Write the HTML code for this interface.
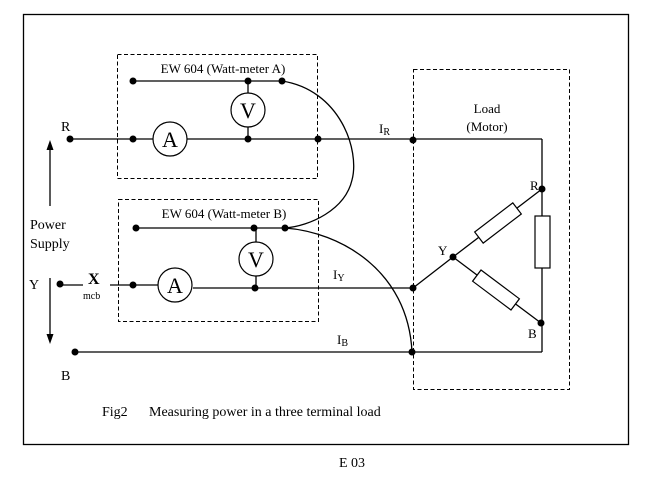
<!DOCTYPE html>
<html><head><meta charset="utf-8"><style>
html,body{margin:0;padding:0;background:#fff;}
svg{display:block;font-family:"Liberation Serif",serif;}
</style></head><body>
<svg width="645" height="483" viewBox="0 0 645 483" xmlns="http://www.w3.org/2000/svg">
<rect x="23.5" y="14.5" width="605" height="430" fill="none" stroke="#000" stroke-width="1.3"/>
<g fill="none" stroke="#000" stroke-width="1" stroke-dasharray="4,2.5">
<rect x="117.5" y="54.5" width="200" height="124"/>
<rect x="118.5" y="199.5" width="200" height="122"/>
<rect x="413.5" y="69.5" width="156" height="320"/>
</g>
<g stroke="#000" stroke-width="1.3" fill="none">
<line x1="133" y1="81" x2="282" y2="81"/>
<line x1="248" y1="81" x2="248" y2="93"/>
<line x1="248" y1="127" x2="248" y2="139"/>
<line x1="70" y1="139" x2="153" y2="139"/>
<line x1="187" y1="139" x2="542" y2="139"/>
<line x1="542" y1="139" x2="542" y2="352"/>
<line x1="136" y1="228" x2="285" y2="228"/>
<line x1="256" y1="228" x2="256" y2="242"/>
<line x1="256" y1="276" x2="256" y2="288"/>
<line x1="60" y1="285" x2="83" y2="285"/>
<line x1="110" y1="285" x2="158" y2="285"/>
<line x1="193" y1="288" x2="413" y2="288"/>
<line x1="75" y1="352" x2="542" y2="352"/>
<line x1="413" y1="288" x2="453" y2="257"/>
<line x1="453" y1="257" x2="542" y2="189"/>
<line x1="453" y1="257" x2="541" y2="323"/>
<path d="M282 81 C340 90 360 150 352 180 C345 210 310 226 285 228"/>
<path d="M285 228 C340 232 408 270 412 352"/>
<line x1="50" y1="206" x2="50" y2="148"/>
<line x1="50" y1="278" x2="50" y2="335"/>
</g>
<polygon points="50,140 46.5,150 53.5,150" fill="#000"/>
<polygon points="50,344 46.5,334 53.5,334" fill="#000"/>
<g fill="#fff" stroke="#000" stroke-width="1.2">
<circle cx="248" cy="110" r="17"/>
<circle cx="170" cy="139" r="17"/>
<circle cx="256" cy="259" r="17"/>
<circle cx="175" cy="285" r="17"/>
<rect x="535" y="216" width="15" height="52"/>
<rect x="-24" y="-7" width="48" height="14" transform="translate(498,223) rotate(-37.4)"/>
<rect x="-24" y="-7" width="48" height="14" transform="translate(496,290) rotate(36.9)"/>
</g>
<g fill="#000">
<circle cx="133" cy="81" r="3.5"/><circle cx="248" cy="81" r="3.5"/><circle cx="282" cy="81" r="3.5"/>
<circle cx="70" cy="139" r="3.5"/><circle cx="133" cy="139" r="3.5"/><circle cx="248" cy="139" r="3.5"/><circle cx="318" cy="139" r="3.5"/><circle cx="413" cy="140" r="3.5"/>
<circle cx="136" cy="228" r="3.5"/><circle cx="254" cy="228" r="3.5"/><circle cx="285" cy="228" r="3.5"/>
<circle cx="60" cy="284" r="3.5"/><circle cx="133" cy="285" r="3.5"/><circle cx="255" cy="288" r="3.5"/><circle cx="413" cy="288" r="3.5"/>
<circle cx="75" cy="352" r="3.5"/><circle cx="412" cy="352" r="3.5"/>
<circle cx="453" cy="257" r="3.5"/><circle cx="542" cy="189" r="3.5"/><circle cx="541" cy="323" r="3.5"/>
</g>
<g fill="#000" font-size="13">
<text x="223" y="73" text-anchor="middle">EW 604 (Watt-meter A)</text>
<text x="224" y="218" text-anchor="middle">EW 604 (Watt-meter B)</text>
<text x="487" y="113" text-anchor="middle">Load</text>
<text x="487" y="131" text-anchor="middle">(Motor)</text>
<text x="61" y="131" font-size="14">R</text>
<text x="29" y="289" font-size="14">Y</text>
<text x="61" y="380" font-size="14">B</text>
<text x="30" y="229" font-size="14">Power</text>
<text x="30" y="248" font-size="14">Supply</text>
<text x="88" y="284" font-size="16" font-weight="bold">X</text>
<text x="83" y="299" font-size="10">mcb</text>
<text x="379" y="133" font-size="13">I<tspan font-size="10" dy="2">R</tspan></text>
<text x="333" y="279" font-size="13">I<tspan font-size="10" dy="2">Y</tspan></text>
<text x="337" y="344" font-size="13">I<tspan font-size="10" dy="2">B</tspan></text>
<text x="438" y="255" font-size="13">Y</text>
<text x="530" y="190" font-size="13">R</text>
<text x="528" y="338" font-size="13">B</text>
<text x="102" y="416" font-size="14">Fig2</text>
<text x="149" y="416" font-size="14">Measuring power in a three terminal load</text>
<text x="339" y="467" font-size="14">E 03</text>
</g>
<g font-size="22" text-anchor="middle" fill="#000">
<text x="248" y="118">V</text>
<text x="170" y="147">A</text>
<text x="256" y="267">V</text>
<text x="175" y="293">A</text>
</g>
</svg>
</body></html>
